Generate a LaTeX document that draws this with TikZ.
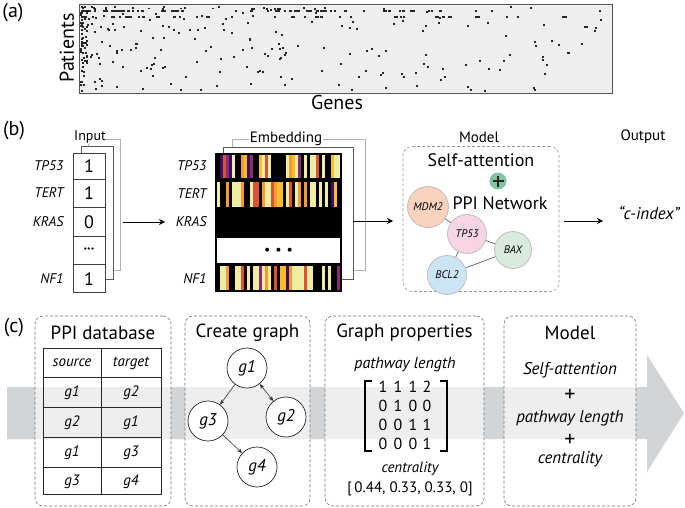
\documentclass[tikz,border=0pt]{standalone}
\usepackage{fontspec}
\setmainfont{PT Sans}
\usetikzlibrary{arrows.meta,calc}
\definecolor{panelbg}{HTML}{EDEFEE}
\definecolor{panelbd}{HTML}{555555}
\definecolor{infY}{HTML}{EFEDA2}
\definecolor{infO}{HTML}{F59A35}
\definecolor{infR}{HTML}{DD5136}
\definecolor{infM}{HTML}{8C2A7C}
\definecolor{infP}{HTML}{3A1060}
\definecolor{infG}{HTML}{FBBD2B}
\definecolor{bandgrey}{HTML}{D2D5D7}
\definecolor{cMDM}{HTML}{FAD3BD}
\definecolor{cTP}{HTML}{F8D5E5}
\definecolor{cBAX}{HTML}{D9EBDD}
\definecolor{cBCL}{HTML}{CBE5F5}
\definecolor{cPlus}{HTML}{80C6A0}
\newcommand\pickcol[1]{%
 \ifnum#1<30 \def\stripecol{black}\else
 \ifnum#1<63 \def\stripecol{infY}\else
 \ifnum#1<71 \def\stripecol{infO}\else
 \ifnum#1<79 \def\stripecol{infR}\else
 \ifnum#1<87 \def\stripecol{infM}\else
 \ifnum#1<94 \def\stripecol{infP}\else
 \def\stripecol{infG}\fi\fi\fi\fi\fi\fi}
\begin{document}
\begin{tikzpicture}[x=1pt,y=-1pt,
  big/.style={font=\fontsize{20}{24}\selectfont},
  ttl/.style={font=\fontsize{19}{22}\selectfont},
  gene/.style={font=\fontsize{14}{17}\selectfont\itshape, anchor=east},
  num/.style={font=\fontsize{18}{20}\selectfont},
  cell/.style={font=\fontsize{15}{18}\selectfont\itshape},
  gnode/.style={circle, draw=black!85, line width=0.7pt, fill=white, minimum size=40pt, inner sep=0pt, font=\fontsize{17}{20}\selectfont\itshape},
  pnode/.style={circle, draw=black!25, line width=0.8pt, minimum size=39pt, inner sep=0pt, font=\fontsize{11}{13}\selectfont\itshape},
  pedge/.style={draw=black!70, line width=0.6pt},
  gedge/.style={draw=black!80, line width=0.6pt, -{Stealth[length=5pt,width=4pt]}},
  arr/.style={draw=black, line width=1pt, -{Stealth[length=6pt,width=6pt]}},
  dbox/.style={draw=black!55, dashed, dash pattern=on 3pt off 2pt, line width=0.6pt, rounded corners=8pt, fill=white, fill opacity=0.6, text opacity=1},
  mtx/.style={font=\fontsize{16}{18}\selectfont},
  prop/.style={font=\fontsize{16}{19}\selectfont\itshape},
  dotc/.style={fill=black!85},
]
\useasboundingbox (0,0) rectangle (685,508);
\fill[white] (0,0) rectangle (685,508);

%% ---------------- (a)
\node[big] (la) at (13,13) {(a)};
\node[fill=panelbg, draw=panelbd, line width=0.8pt, minimum width=533pt, minimum height=89pt, inner sep=0pt] (heat) at (345.5,48.5) {};
\begin{scope}
\clip (80,5) rectangle (611,92);
\pgfmathsetseed{11}
\foreach \i in {1,...,60}{
  \pgfmathsetmacro\dx{81+430*rnd^1.4}
  \pgfmathsetmacro\dw{2+4*rnd^3}
  \fill[dotc] (\dx,10.5) rectangle ++(\dw,2);
}
\foreach \i in {1,...,35}{
  \pgfmathsetmacro\dx{81+500*rnd^1.5}
  \pgfmathsetmacro\dw{2+3*rnd^3}
  \fill[dotc] (\dx,16) rectangle ++(\dw,2);
}
\foreach \i in {1,...,210}{
  \pgfmathsetmacro\dx{81+527*rnd^1.7}
  \pgfmathsetmacro\dy{6+84*rnd}
  \fill[dotc] (\dx,\dy) rectangle ++(2,2);
}
\foreach \i in {1,...,40}{
  \pgfmathsetmacro\dx{80+8*rnd^2}
  \pgfmathsetmacro\dy{6+84*rnd}
  \fill[dotc] (\dx,\dy) rectangle ++(2,2);
}
\foreach \i in {1,...,15}{
  \pgfmathsetmacro\dx{81+200*rnd}
  \pgfmathsetmacro\dy{6+3*rnd}
  \fill[dotc] (\dx,\dy) rectangle ++(2,1.8);
}
\end{scope}
\node[big, rotate=90] (pat) at (67,48) {Patients};
\node[big] (genes) at (337,103) {Genes};

%% ---------------- (b)
\node[big] (lb) at (14,131) {(b)};
% input stack
\draw[black!30, line width=0.7pt] (88,139) rectangle (120,270);
\draw[black!65, line width=0.7pt, fill=white] (81,146) rectangle (113,279);
\node[font=\fontsize{14}{17}\selectfont, fill=white, inner sep=0.5pt] (inlbl) at (90,137) {Input};
\draw[black!75, line width=0.9pt, fill=white] (73,153) rectangle (105,292);
\foreach \yy in {179,207,236,264}{ \draw[black!75, line width=0.9pt] (73,\yy) -- (105,\yy); }
\node[num] (n1) at (89,166) {1};
\node[num] (n2) at (89,193) {1};
\node[num] (n3) at (89,222) {0};
\node[font=\fontsize{8}{10}\selectfont] (n4) at (89,250) {\textbullet\textbullet\textbullet};
\node[num] (n5) at (89,279) {1};
\node[gene] (gi1) at (67,166) {TP53};
\node[gene] (gi2) at (67,193) {TERT};
\node[gene] (gi3) at (67,222) {KRAS};
\node[gene] (gi5) at (67,279) {NF1};
\coordinate (ar1s) at (123,222);
\coordinate (ar1e) at (165,222);
\draw[arr] (ar1s) -- (ar1e);

% embedding stack
\draw[black!30, line width=0.7pt] (232,139) rectangle (365,270);
\draw[black!65, line width=0.7pt, fill=white] (223,147) rectangle (353,279);
\node[font=\fontsize{15}{18}\selectfont, fill=white, inner sep=0.5pt] (emblbl) at (286,139) {Embedding};
\fill[black] (215,153) rectangle (342,292);
\pgfmathsetseed{5}
\foreach \ry/\rh in {155/23, 182/25, 266/24}{
  \foreach \k in {0,...,40}{
    \pgfmathrandominteger{\rr}{1}{100}
    \pickcol{\rr}
    \fill[fill=\stripecol] ({217.3+3*\k},\ry) rectangle ++(2.5,\rh);
  }
}
\fill[white] (217,238) rectangle (340,263);
\node[font=\fontsize{14}{16}\selectfont] (edots) at (278.5,251) {\textbullet\hspace{5pt}\textbullet\hspace{5pt}\textbullet};
\node[gene] (ge1) at (210,166) {TP53};
\node[gene] (ge2) at (210,194) {TERT};
\node[gene] (ge3) at (210,222) {KRAS};
\node[gene] (ge5) at (210,279) {NF1};
\coordinate (ar2s) at (353,221);
\coordinate (ar2e) at (393,221);
\draw[arr] (ar2s) -- (ar2e);

% model
\node[font=\fontsize{15}{18}\selectfont] (mlbl) at (479,137) {Model};
\node[draw=black!40, dashed, dash pattern=on 3pt off 2pt, line width=0.6pt, rounded corners=9pt, minimum width=156pt, minimum height=145pt, inner sep=0pt] (mbox) at (481,219) {};
\node[font=\fontsize{18}{21}\selectfont] (sa) at (481,160) {Self-attention};
\node[circle, fill=cPlus, minimum size=17pt, inner sep=0pt] (plus) at (498,181) {};
\draw[black!85, line width=1.1pt] ($(plus)+(-5.5,0)$) -- ($(plus)+(5.5,0)$);
\draw[black!85, line width=1.1pt] ($(plus)+(0,-5.5)$) -- ($(plus)+(0,5.5)$);
\node[font=\fontsize{18}{21}\selectfont] (ppi) at (500,203) {PPI Network};
\node[pnode, fill=cMDM, minimum size=41pt] (mdm2) at (428,207) {MDM2};
\node[pnode, fill=cTP] (tp53) at (467,234) {TP53};
\node[pnode, fill=cBAX, minimum size=37pt] (bax) at (513,250) {BAX};
\node[pnode, fill=cBCL] (bcl2) at (447,275) {BCL2};
\draw[pedge] (mdm2) -- (tp53);
\draw[pedge] (tp53) -- (bax);
\draw[pedge] (tp53) -- (bcl2);
\draw[pedge] (bcl2) -- (bax);
\coordinate (ar3s) at (564,221);
\coordinate (ar3e) at (603,221);
\draw[arr] (ar3s) -- (ar3e);
\node[font=\fontsize{15}{18}\selectfont] (outlbl) at (643,137) {Output};
\node[font=\fontsize{17}{20}\selectfont\itshape] (cidx) at (649,213) {``c-index''};

%% ---------------- (c)
\fill[bandgrey] (7,387) -- (647,387) -- (647,355) -- (684,413) -- (647,472) -- (647,439) -- (7,439) -- cycle;
\node[big] (lc) at (14,328) {(c)};
\node[dbox, minimum width=136pt, minimum height=190pt, inner sep=0pt] (box1) at (103,411) {};
\node[dbox, minimum width=125pt, minimum height=190pt, inner sep=0pt] (box2) at (247.5,411) {};
\node[dbox, minimum width=159pt, minimum height=190pt, inner sep=0pt] (box3) at (404.5,411) {};
\node[dbox, minimum width=132pt, minimum height=190pt, inner sep=0pt] (box4) at (570,411) {};
\node[ttl] (t1) at (103,333) {PPI database};
\node[ttl] (t2) at (247.5,333) {Create graph};
\node[ttl] (t3) at (404.5,333) {Graph properties};
\node[ttl] (t4) at (570,333) {Model};

% table
\draw[black!85, line width=0.8pt] (43,348) rectangle (161,494);
\foreach \yy in {377,407,437,467}{ \draw[black!85, line width=0.8pt] (43,\yy) -- (161,\yy); }
\draw[black!85, line width=0.8pt] (101,348) -- (101,494);
\node[cell] (c11) at (72,363) {source};
\node[cell] (c12) at (131,363) {target};
\node[cell] (c21) at (72,393) {g1};
\node[cell] (c22) at (131,393) {g2};
\node[cell] (c31) at (72,423) {g2};
\node[cell] (c32) at (131,423) {g1};
\node[cell] (c41) at (72,453) {g1};
\node[cell] (c42) at (131,453) {g3};
\node[cell] (c51) at (72,482) {g3};
\node[cell] (c52) at (131,482) {g4};

% graph
\node[gnode] (g1) at (247,368) {g1};
\node[gnode] (g2) at (286,417) {g2};
\node[gnode] (g3) at (208,421) {g3};
\node[gnode] (g4) at (257,467) {g4};
\draw[gedge] (g1) -- (g3);
\draw[gedge, {Stealth[length=5pt,width=4pt]}-{Stealth[length=5pt,width=4pt]}] (g1) -- (g2);
\draw[gedge] (g3) -- (g4);

% graph properties
\node[prop] (pl) at (405,365) {pathway length};
\draw[black, line width=2.6pt] (372,381) -- (365,381) -- (365,451) -- (372,451);
\draw[black, line width=2.6pt] (440,381) -- (447,381) -- (447,451) -- (440,451);
\foreach \r/\yy/\a/\b/\c/\d in {1/387/1/1/1/2, 2/406/0/1/0/0, 3/425/0/0/1/1, 4/444/0/0/0/1}{
  \node[mtx] (m\r a) at (383,\yy) {\a};
  \node[mtx] (m\r b) at (398,\yy) {\b};
  \node[mtx] (m\r c) at (413,\yy) {\c};
  \node[mtx] (m\r d) at (427,\yy) {\d};
}
\node[font=\fontsize{15}{18}\selectfont\itshape] (cen) at (410,469) {centrality};
\node[font=\fontsize{15}{18}\selectfont] (cenv) at (410,489) {[\,0.44, 0.33, 0.33, 0]};

% model (c)
\node[font=\fontsize{17}{20}\selectfont\itshape] (m1) at (570,370) {Self-attention};
\node[font=\fontsize{22}{24}\selectfont] (p1) at (570,395) {+};
\node[font=\fontsize{17}{20}\selectfont\itshape] (m2) at (570,418) {pathway length};
\node[font=\fontsize{22}{24}\selectfont] (p2) at (570,440) {+};
\node[font=\fontsize{17}{20}\selectfont\itshape] (m3) at (570,459) {centrality};
\end{tikzpicture}
\end{document}
